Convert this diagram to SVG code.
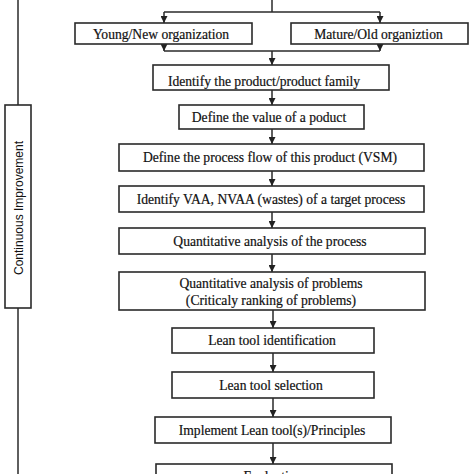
<svg xmlns="http://www.w3.org/2000/svg" width="474" height="474" viewBox="0 0 474 474">
<defs>
<marker id="ah" markerUnits="userSpaceOnUse" markerWidth="7" markerHeight="7" refX="7" refY="3.5" orient="auto">
<path d="M0,0 L7,3.5 L0,7 z" fill="#222"/>
</marker>
<style>
.box{fill:#fff;stroke:#2a2a2a;stroke-width:1.6}
.t{font-family:"Liberation Serif","Times New Roman",serif;font-size:13.6px;fill:#111;stroke:#111;stroke-width:0.2;text-anchor:middle}
.s{font-family:"Liberation Sans",Arial,sans-serif;font-size:12px;fill:#111;text-anchor:middle}
.c{fill:none;stroke:#2a2a2a;stroke-width:1.5}
.ca{fill:none;stroke:#2a2a2a;stroke-width:1.5;marker-end:url(#ah)}
</style>
</defs>
<rect width="474" height="474" fill="#fff"/>
<g id="connectors">
<line class="c" x1="272" y1="0" x2="272" y2="12"/>
<polyline class="c" points="164,12 380,12"/>
<line class="ca" x1="164" y1="12" x2="164" y2="23"/>
<line class="ca" x1="380" y1="12" x2="380" y2="23"/>
<line class="ca" x1="164" y1="44" x2="164" y2="51"/>
<line class="ca" x1="380" y1="44" x2="380" y2="51"/>
<polyline class="c" points="164,51 380,51"/>
<line class="ca" x1="272" y1="51" x2="272" y2="65"/>
<line class="ca" x1="272" y1="90" x2="272" y2="105"/>
<line class="ca" x1="272" y1="129" x2="272" y2="144"/>
<line class="ca" x1="272" y1="171" x2="272" y2="186"/>
<line class="ca" x1="272" y1="212" x2="272" y2="228"/>
<line class="ca" x1="272" y1="254" x2="272" y2="272"/>
<line class="ca" x1="273" y1="310" x2="273" y2="328"/>
<line class="ca" x1="273" y1="353" x2="273" y2="372"/>
<line class="ca" x1="273" y1="398" x2="273" y2="417"/>
<line class="ca" x1="273" y1="443" x2="273" y2="464"/>
<line class="c" x1="18" y1="0" x2="18" y2="105"/>
<line class="c" x1="18" y1="308" x2="18" y2="474"/>
</g>
<g id="young">
<rect class="box" x="75" y="23" width="177" height="21"/>
<text class="t" x="161" y="38.5">Young/New organization</text>
</g>
<g id="mature">
<rect class="box" x="291" y="23" width="177" height="21"/>
<text class="t" x="378.5" y="38.5">Mature/Old organiztion</text>
</g>
<g id="identify">
<rect class="box" x="153" y="65" width="236" height="25"/>
<text class="t" x="264" y="86">Identify the product/product family</text>
</g>
<g id="value">
<rect class="box" x="179" y="105" width="185" height="24"/>
<text class="t" x="269" y="121.5">Define the value of a poduct</text>
</g>
<g id="flow">
<rect class="box" x="119" y="144" width="305" height="27"/>
<text class="t" x="270" y="162">Define the process flow of this product (VSM)</text>
</g>
<g id="vaa">
<rect class="box" x="119" y="186" width="305" height="26"/>
<text class="t" x="271" y="203.5">Identify VAA, NVAA (wastes) of a target process</text>
</g>
<g id="quant">
<rect class="box" x="119" y="228" width="306" height="26"/>
<text class="t" x="270" y="246">Quantitative analysis of the process</text>
</g>
<g id="problems">
<rect class="box" x="119" y="272" width="306" height="38"/>
<text class="t" x="271" y="288">Quantitative analysis of problems</text>
<text class="t" x="271" y="304.5">(Criticaly ranking of problems)</text>
</g>
<g id="leanid">
<rect class="box" x="172" y="328" width="202" height="25"/>
<text class="t" x="272" y="345">Lean tool identification</text>
</g>
<g id="leansel">
<rect class="box" x="172" y="372" width="202" height="26"/>
<text class="t" x="271" y="389.5">Lean tool selection</text>
</g>
<g id="implement">
<rect class="box" x="155" y="417" width="236" height="26"/>
<text class="t" x="272" y="434.5">Implement Lean tool(s)/Principles</text>
</g>
<g id="evaluation">
<rect class="box" x="156" y="464" width="236" height="26"/>
<text class="t" x="273" y="481">Evaluation</text>
</g>
<g id="continuous">
<rect class="box" x="5" y="105" width="26" height="203"/>
<text class="s" transform="translate(22.5,208) rotate(-90)">Continuous Improvement</text>
</g>
</svg>
